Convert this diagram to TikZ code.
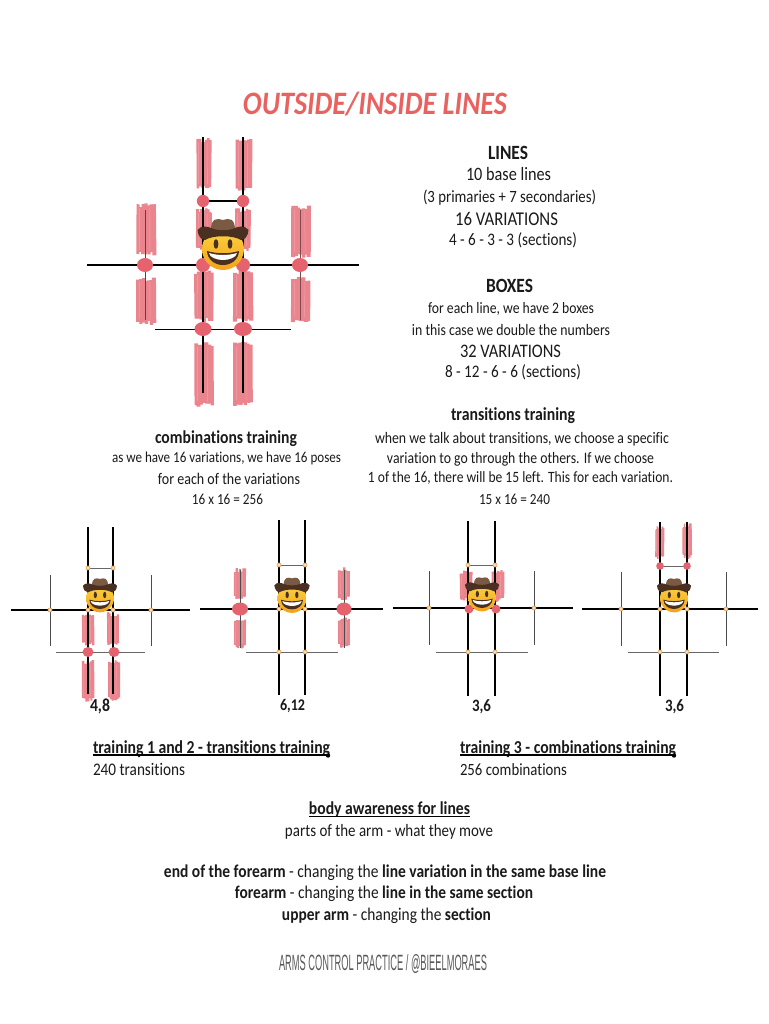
\documentclass[tikz,border=0pt]{standalone}
\usepackage{fontspec}
\usepackage{graphicx}
\setmainfont[FakeStretch=0.86,RawFeature={-liga}]{Carlito}
\newfontfamily\footf[FakeStretch=0.42]{Liberation Sans}
\definecolor{brushc}{HTML}{EA858E}
\definecolor{streakc}{HTML}{F0A3AA}
\definecolor{dotc}{HTML}{E4636E}
\definecolor{titlec}{HTML}{E8625F}
\definecolor{orangec}{HTML}{E8A860}
\definecolor{inkc}{HTML}{1A1A1A}
\definecolor{hatc}{HTML}{7A5A42}
\definecolor{hatd}{HTML}{4A3020}
\definecolor{facet}{HTML}{FBD443}
\definecolor{faceb}{HTML}{F4A21A}
\tikzset{
  txt/.style={inner sep=0pt,outer sep=0pt,text=inkc},
  vline/.style={draw=black,line width=1.1pt},
  sline/.style={draw=black!70,line width=.9pt},
  hline/.style={draw=black,line width=1.1pt},
  thinl/.style={draw=black!60,line width=.7pt},
  reddot/.style={fill=dotc,draw=none},
  odot/.style={fill=orangec!40,draw=orangec,line width=.7pt},
  rule/.style={draw=black,line width=1.2pt},
}
% centred, fitted to a width
\newcommand\tc[5]{\node[txt] (#1) at (#2,#3+.5) {\resizebox{#4pt}{!}{#5}};}
\newcommand\tl[5]{\node[txt,anchor=west] (#1) at (#2,#3+.5) {\resizebox{#4pt}{!}{#5}};}
% brush stroke: cx, y1, y2, width
\newcommand\brush[4]{%
  \fill[brushc] (#1-#4*.44,#2+4) rectangle (#1+#4*.44,#3-4);
  \foreach \i in {-3,...,3}{%
    \pgfmathsetmacro\bx{#1+\i*#4/8}%
    \pgfmathsetmacro\ba{#2+rnd*5}%
    \pgfmathsetmacro\bb{#3-rnd*5}%
    \pgfmathsetmacro\bw{#4*(.14+rnd*.06)}%
    \draw[draw=brushc,line width=\bw pt] (\bx,\ba) -- (\bx+rand*.5,\bb);
  }%
  \foreach \i in {-2.5,1.5}{%
    \pgfmathsetmacro\bx{#1+\i*#4/8}%
    \draw[draw=streakc,line width=.5pt] (\bx,#2+5) -- (\bx+rand*.5,#3-6);
  }%
}
% emoji: x, y (hat reference centre), face radius
\newcommand\cowboy[3]{%
  \begin{scope}[shift={(#1,#2+3*#3/21)},scale=#3/21]
    \path[top color=facet,bottom color=faceb] (0,-1) ellipse (21 and 21);
    \fill[hatd] (-25.5,-20) .. controls (-22,-25) and (-15,-24) .. (-10,-21)
      -- (10,-21) .. controls (15,-24) and (22,-25) .. (25.5,-20)
      .. controls (25,-14) and (22,-10) .. (18,-10)
      .. controls (10,-15) and (-10,-15) .. (-18,-10)
      .. controls (-22,-10) and (-25,-14) .. (-25.5,-20) -- cycle;
    \fill[hatc] (-12,-20) .. controls (-12,-32) and (-6,-32) .. (0,-30)
      .. controls (6,-32) and (12,-32) .. (12,-20)
      .. controls (6,-17) and (-6,-17) .. (-12,-20) -- cycle;
    \fill[hatd] (-12,-22) .. controls (-6,-19) and (6,-19) .. (12,-22)
      -- (12,-19) .. controls (6,-16) and (-6,-16) .. (-12,-19) -- cycle;
    \fill[hatd] (-7,-6) ellipse (2.4 and 4.8);
    \fill[hatd] (7,-6) ellipse (2.4 and 4.8);
    \fill[hatd] (-16,1) .. controls (-6,4) and (6,4) .. (16,1)
      .. controls (15.5,10) and (8,15) .. (0,15)
      .. controls (-8,15) and (-15.5,10) .. (-16,1) -- cycle;
    \fill[white] (-14,3) .. controls (-6,5.6) and (6,5.6) .. (14,3)
      .. controls (13.5,7.5) and (6,10) .. (0,10)
      .. controls (-6,10) and (-13.5,7.5) .. (-14,3) -- cycle;
  \end{scope}}
% skeleton: x1,x2,top,bot,xL,xR,sideTop,sideBot  then mainY,x0,x9,upY,lowY,lowL,lowR
\newcommand\skelA[8]{\def\xa{#1}\def\xb{#2}\def\ty{#3}\def\by{#4}\def\xl{#5}\def\xr{#6}\def\sa{#7}\def\sb{#8}}
\newcommand\skelB[7]{%
  \draw[vline] (\xa,\ty) -- (\xa,\by);
  \draw[vline] (\xb,\ty) -- (\xb,\by);
  \draw[sline] (\xl,\sa) -- (\xl,\sb);
  \draw[sline] (\xr,\sa) -- (\xr,\sb);
  \draw[hline] (#2,#1) -- (#3,#1);
  \draw[thinl] (\xa,#4) -- (\xb,#4);
  \draw[thinl] (#6,#5) -- (#7,#5);
  \foreach \p in {\xl,\xa,\xb,\xr}{\draw[odot] (\p,#1) circle (2);}
  \foreach \p in {\xa,\xb}{\draw[odot] (\p,#4) circle (2); \draw[odot] (\p,#5) circle (2);}
}
\begin{document}
\begin{tikzpicture}[x=1pt,y=-1pt]
\pgfmathsetseed{42}
\useasboundingbox (0,0) rectangle (768,1024);
\fill[white] (0,0) rectangle (768,1024);

% ---- large figure
\brush{204}{138}{190}{17}\brush{244}{138}{192}{18}
\brush{204}{208}{252}{17}\brush{243}{208}{252}{17}
\brush{146}{203}{256}{21}\brush{301}{205}{258}{21}
\brush{146}{277}{325}{21}\brush{301}{277}{323}{21}
\brush{204}{270}{322}{21}\brush{243}{270}{322}{21}
\brush{204}{342}{407}{21}\brush{243}{342}{406}{21}
\draw[vline] (203,137) -- (203,393);
\draw[vline] (243,137) -- (243,393);
\draw[sline,draw=black!55!brushc] (145,210) -- (145,320);
\draw[sline,draw=black!45!brushc] (300,210) -- (300,320);
\draw[hline,line width=1.3pt] (87,265) -- (359,265);
\draw[hline] (203,201) -- (243,201);
\draw[thinl,draw=black] (155,329) -- (291,329);
\fill[reddot] (203,201) circle (6.2);
\fill[reddot] (243,201) circle (6.2);
\fill[reddot] (145,265) ellipse (8 and 7);
\fill[reddot] (203,265) circle (7);
\fill[reddot] (243,265) circle (7);
\fill[reddot] (300,265) ellipse (8 and 7);
\fill[reddot] (203,329) ellipse (8.5 and 7);
\fill[reddot] (243,329) ellipse (9 and 7);
\cowboy{223}{247}{21}

% ---- figure A
\brush{88}{612}{646}{13}\brush{113}{612}{647}{13}
\brush{88}{660}{702}{13}\brush{114}{660}{701}{13}
\skelA{88}{113}{527}{694}{50}{151}{575}{646}
\skelB{610}{11}{190}{568}{652}{56}{145}
\fill[reddot] (88,652) ellipse (5.5 and 5);
\fill[reddot] (114,652) ellipse (5.5 and 5);
\cowboy{100}{597}{14}

% ---- figure B
\brush{240}{568}{600}{13}\brush{240}{617}{649}{13}
\brush{344}{567}{600}{13}\brush{344}{617}{648}{13}
\skelA{279}{305}{520}{695}{240}{344}{570}{648}
\skelB{609}{200}{383}{565}{652}{246}{338}
\fill[reddot] (240,609) ellipse (8 and 6.5);
\fill[reddot] (344,609) ellipse (7.5 and 6.5);
\cowboy{292}{597}{14.5}

% ---- figure C
\brush{466}{570}{602}{14}\brush{498}{570}{602}{14}
\skelA{468}{495}{521}{696}{429}{534}{571}{645}
\skelB{608}{393}{573}{565}{652}{436}{528}
\fill[reddot] (469,609) circle (4.5);
\fill[reddot] (496,609) circle (4.5);
\cowboy{482}{596}{14}

% ---- figure D
\brush{660}{525}{559}{10}\brush{687}{523}{559}{10}
\skelA{660}{687}{522}{696}{621}{726}{572}{646}
\skelB{609}{582}{758}{566}{652}{628}{719}
\fill[reddot] (660,566) circle (3.8);
\fill[reddot] (687,566) circle (3.8);
\cowboy{674}{597}{14}

% ---- texts
\tc{title}{375}{104}{264}{\color{titlec}\bfseries\itshape OUTSIDE/INSIDE LINES}
\tc{t1}{508}{152}{40}{\bfseries LINES}
\tc{t2}{508.5}{174}{85}{10 base lines}
\tc{t3}{509.5}{197}{173}{(3 primaries + 7 secondaries)}
\tc{t4}{506.5}{218}{103}{16 VARIATIONS}
\tc{t5}{513}{240}{128}{4 - 6 - 3 - 3 (sections)}
\tc{t6}{509.5}{285}{47}{\bfseries BOXES}
\tc{t7}{511}{308}{166}{for each line, we have 2 boxes}
\tc{t8}{511}{329}{198}{in this case we double the numbers}
\tc{t9}{510.5}{351}{101}{32 VARIATIONS}
\tc{t10}{513}{372}{136}{8 - 12 - 6 - 6 (sections)}
\tc{t11}{513}{415}{124}{\bfseries transitions training}
\tc{t12}{226}{438}{142}{\bfseries combinations training}
\tc{t13}{226.5}{458}{229}{as we have 16 variations, we have 16 poses}
\tc{t14}{229}{478}{142}{for each of the variations}
\tc{t15}{227.5}{499}{71}{16 x 16 = 256}
\tc{t16}{522}{439}{294}{when we talk about transitions, we choose a specific}
\tc{t17}{520.5}{459}{267}{variation to go through the others. If we choose}
\tc{t18}{520.5}{478}{305}{1 of the 16, there will be 15 left. This for each variation.}
\tc{t19}{514.5}{499}{71}{15 x 16 = 240}
\tc{n1}{100}{706}{20}{\bfseries 4,8}
\tc{n2}{292.5}{706}{25}{\bfseries 6,12}
\tc{n3}{481.5}{706}{19}{\bfseries 3,6}
\tc{n4}{674.5}{706}{19}{\bfseries 3,6}
\tl{a1}{93}{748}{237}{\bfseries training 1 and 2 - transitions training}
\tl{a2}{93}{769}{92}{240 transitions}
\tl{b1}{460}{748}{216}{\bfseries training 3 - combinations training}
\tl{b2}{460}{769}{107}{256 combinations}
\draw[rule] (93,755) -- (329,755);
\fill (139,755.5) circle (1.8); \fill (328,755.5) circle (2.2);
\draw[rule] (460,755) -- (675,755);
\fill (508,755.5) circle (1.8); \fill (674,755.5) circle (2.2);
\tc{c1}{389.5}{809}{161}{\bfseries body awareness for lines}
\draw[rule,line width=1pt] (309,816) -- (470,816);
\tc{c2}{389}{831}{208}{parts of the arm - what they move}
\tc{c3}{385}{872}{442}{\textbf{end of the forearm} - changing the \textbf{line variation in the same base line}}
\tc{c4}{384}{893}{298}{\textbf{forearm} - changing the \textbf{line in the same section}}
\tc{c5}{386.5}{915}{209}{\textbf{upper arm} - changing the \textbf{section}}
\tc{foot}{383}{964}{208}{\color{black!65}\footf ARMS CONTROL PRACTICE / @BIEELMORAES}
\end{tikzpicture}
\end{document}
